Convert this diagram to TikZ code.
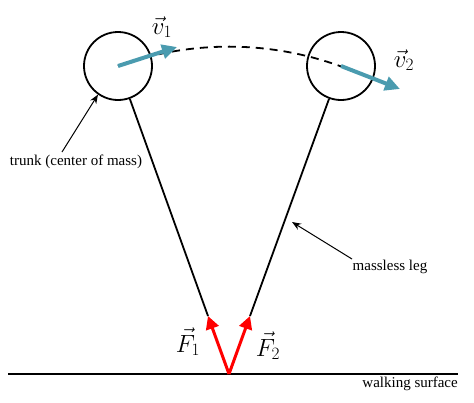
\documentclass[tikz,border=0pt]{standalone}
\usepackage{fontspec}
\setmainfont{Liberation Serif}
\usepackage{amsmath}
\usetikzlibrary{arrows.meta}
\definecolor{velblue}{RGB}{74,155,175}

\begin{document}
\begin{tikzpicture}[x=1pt,y=-1pt,
    body/.style={circle,draw,line width=1.8pt,minimum size=68pt,inner sep=0pt},
    leg/.style={line width=1.8pt},
    force/.style={-{Triangle[length=13pt,width=13pt]},line width=3pt,red},
    vel/.style={-{Triangle[length=15pt,width=14pt]},line width=4pt,velblue},
    note/.style={font=\fontsize{15}{18}\selectfont,inner sep=0pt},
    lbl/.style={font=\fontsize{23}{27}\selectfont,inner sep=0pt},
    pointer/.style={-{Stealth[length=9pt,width=7pt]},line width=1pt}]
				\useasboundingbox (0,0) rectangle (474,402);
				\coordinate (g) at (229,374);
				\node[body] (t1) at (118,66) {};
				\node[body] (t2) at (341,66) {};
				\coordinate (k1) at (208,316);
				\coordinate (k2) at (250,316);
				\draw[leg] (t1) -- (k1);
				\draw[leg] (t2) -- (k2);
				\coordinate (s0) at (8,374);
				\coordinate (s1) at (458,374);
				\draw[line width=2.4pt] (s0) -- (s1);
				\node[note,anchor=north east] (surf) at (458,377) {walking surface};
				\draw[force] (g) -- (k1);
				\draw[force] (g) -- (k2);
				\node[lbl] (f1) at (188,342) {$\vec{F}_1$};
				\node[lbl] (f2) at (268,346) {$\vec{F}_2$};
				% path of the trunk
				\draw[line width=1.8pt,dash pattern=on 8pt off 6pt] (t1.center) arc[start angle=109.8,end angle=70,radius=327.4pt];
				\coordinate (v1e) at (177,47);
				\coordinate (v2e) at (400,89);
				\draw[vel] (t1.center) -- (v1e);
				\draw[vel] (t2.center) -- (v2e);
				\node[lbl] (v1) at (162,27) {$\vec{v}_1$};
				\node[lbl] (v2) at (404,60) {$\vec{v}_2$};
				% notes
				\node[note] (trunk) at (76,162) {trunk (center of mass)};
				\coordinate (tp) at (62,152);
				\draw[pointer] (tp) -- (t1.235);
				\node[note] (legtxt) at (390,267) {massless leg};
				\coordinate (lp) at (352,259);
				\coordinate (lq) at (292,222);
				\draw[pointer] (lp) -- (lq);
\end{tikzpicture}
\end{document}
